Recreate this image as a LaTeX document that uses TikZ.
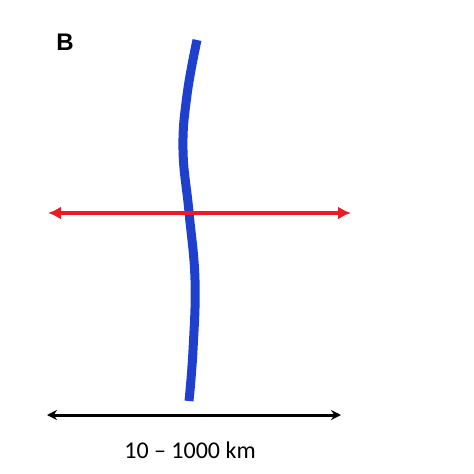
\documentclass[tikz,border=0pt]{standalone}
\usepackage{fontspec}
\setmainfont{Carlito}
\newfontfamily\labelfont{Liberation Sans}
\usetikzlibrary{arrows.meta}
\definecolor{FaultBlue}{HTML}{1E40CC}
\definecolor{ProfileRed}{HTML}{EC1C24}

\begin{document}
\begin{tikzpicture}[
  x=1pt, y=-1pt,
  faultline/.style={draw=FaultBlue, line width=9pt, line cap=butt},
  profilearrow/.style={{Latex[length=13pt,width=13pt]}-{Latex[length=13pt,width=13pt]}, line width=4.5pt, draw=ProfileRed},
  scalearrow/.style={{Stealth[length=10pt,width=10pt]}-{Stealth[length=10pt,width=10pt]}, line width=3pt, draw=black},
  panellabel/.style={font=\labelfont\bfseries\fontsize{24}{26}\selectfont},
  scalelabel/.style={font=\fontsize{24}{26}\selectfont}
]
\useasboundingbox (0,0) rectangle (474,474);
\node[panellabel] (panel) at (65,42) {B};
% fault trace
\draw[faultline] plot[smooth, tension=0.7] coordinates {(197,40) (187,95) (183,150) (189,212) (195,280) (193,350) (189,401)};
% profile and scale
\coordinate (pw) at (48,213);
\coordinate (pe) at (351,213);
\draw[profilearrow] (pw) -- (pe);
\coordinate (sw) at (47,415);
\coordinate (se) at (341,415);
\draw[scalearrow] (sw) -- (se);
\node[scalelabel] (scale) at (190,450) {10 – 1000 km};
\end{tikzpicture}
\end{document}
